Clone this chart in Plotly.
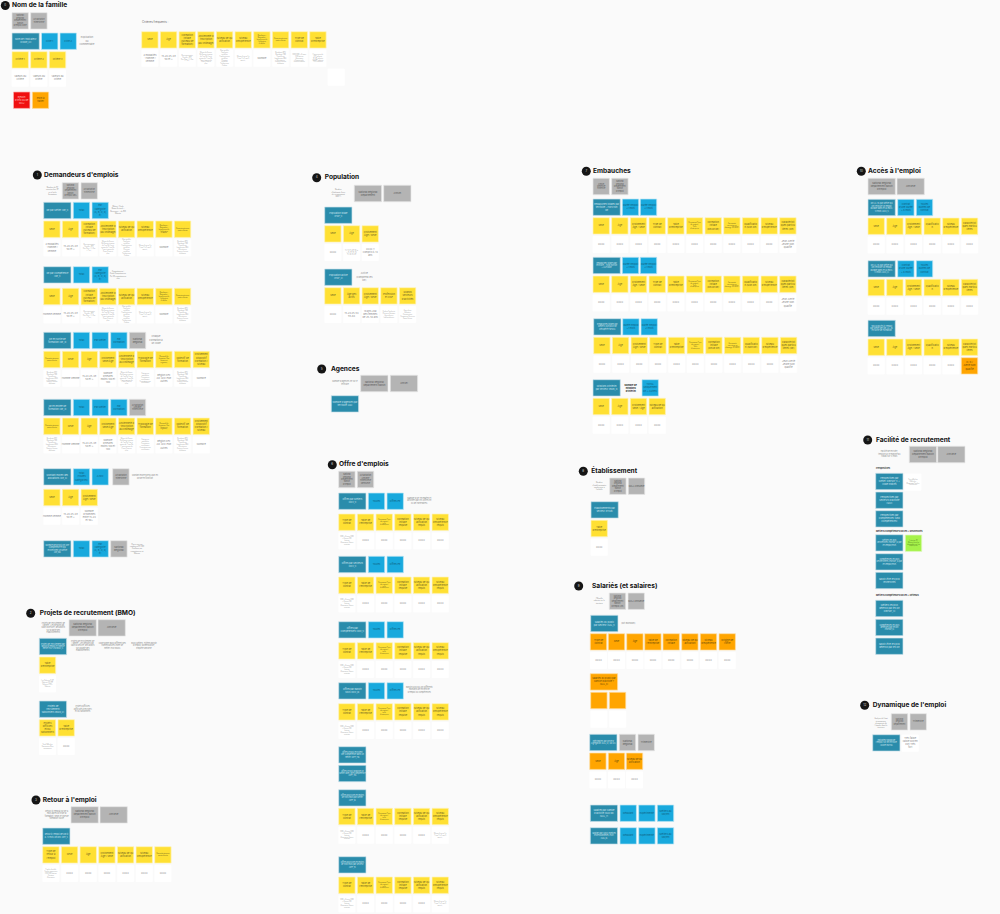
import textwrap
import plotly.graph_objects as go

# texts of the recurring post-its
crit_long = ["Sexe", "Âge", "Formation initiale (Niveau de formation)", "Ancienneté d'inscription (au chômage)",
             "Niveau de qualification", "Niveau d'expérience",
             "Résidence / Nationalité / bénéficiaire de l'obligation d'emploi",
             "Caractéristiques particulières"]
crit_famille = crit_long + ["Type de contrat", "Taille d'entreprise"]
val_famille = ["2 modalités : Homme / Femme", "15-24 25-49 50 et +",
               "Non renseignée Certifié / DEF Bac Bac + 1 / Bac + 2 et +",
               "Moins de 6 mois De 6 mois à moins de 1 an De 1 an à moins de 2 ans De 2 ans à moins de 3 ans 3 ans et plus",
               "Non qualifié Employés qualifiés Employés non qualifiés Ouvriers qualifiés Techniciens Cadres",
               "Moins d'un an 1 à 2 ans 2 à 5 ans 5 ans et +", "Nombre",
               "Résidents QPV Résidents ZRR Travailleurs handicapés RSA Allocataires Seniors Jeunes diplômés",
               "CDD CDD > 6 mois CDI Intérim Alternance Contrat aidé Autres contrats",
               "Entreprises de 0-9 salariés 10-49 salariés 50-199 salariés 200+ salariés"]
val_de = ["2 modalités : Homme / Femme", "15-24 25-49 50 et +",
          "Non renseignée Certifié / DEF Bac Bac + 1 / Bac + 2 et +", val_famille[3], val_famille[4],
          "Moins d'un an 1 à 2 ans 2 à 5 ans 5 ans et +", "Nombre", val_famille[7]]
val_de2 = ["Homme Femme"] + val_de[1:]
crit_form = ["Caractéristiques particulières", "Sexe", "Âge", "Croisement Sexe/Âge",
             "Ancienneté d'inscription au chômage", "Typologie de formation",
             "Dispositif de formation (Son finance et organise)", "Objectif de formation",
             "Croisement Dispositif Formation / Niveau"]
val_form = [val_famille[7], "Homme Femme", "15-24 25-49 50 et +", "Nombre d'heures moins 100 et 100",
            val_famille[3], "Catégories nationales Formations certifiantes Formations non certifiantes",
            "Région CPF AIF AFC POE Autres", val_famille[7], "Nombre"]
crit_3 = ["Sexe", "Âge", "Croisement Âge / Sexe"]
val_3 = ["Homme Femme", "15-24 25-49 50 et +", "Nombre d'hommes entre 15-24 et 50+"]
crit_off = ["Type de contrat", "Taille de l'entreprise", "Croisement Type de contrat / taille d'entreprise",
            "Formation initiale requise", "Niveau de qualification requis", "Niveau d'expérience requis"]
val_off = ["CDD > 6 mois CDD < 6 mois CDI Intérim Alternance Autres contrats", "XXXX", "XXXX", "XXXX", "XXXX", "XXXX"]
val_off2 = val_off[:5] + ["Moins d'un an 1 à 2 ans 2 à 5 ans 5 ans et +"]
crit_emb = ["Sexe", "Âge", "Croisement Âge / Sexe", "Type de contrat", "Taille d'entreprise",
            "Croisement Type de contrat / Taille d'entreprise", "Formation initiale (DEAR DE)",
            "Ancienneté inscription au chômage (DEAR DE)", "Qualification (Non DE)", "Niveau d'expérience",
            "Caractéristiques particulières (DE)"]
val_emb = ["XXXX"] * 10 + ["Jeun Alerté Jeune Non qualifié"]
crit_acc = ["Sexe", "Âge", "Croisement Âge / Sexe", "Qualification", "Niveau d'expérience",
            "Caractéristiques Particulières"]
crit_sal = ["Type de contrat", "Sexe", "Âge", "Taille de l'entreprise", "Formation initiale",
            "Niveau de qualification", "Niveau d'expérience", "Origine de l'offre"]
duree = "Durée Emploi >1 mois"

# board: kind, x, y, labels (several x = one post-it each when x is a list)
P = 18.67
board = [
    # 0 Nom de la famille
    ("gray", [12, 30.7], 12.7, ["National Régional Département Bassin d'emploi Zone", "Actualisation Trimestrielle"]),
    ("teal", 12, 33, ["Nom de l'indicateur (CODE_XI)"]),
    ("blue", [41.5, 60], 33, ["Filtre 1", "Filtre 2"]),
    ("text", 87, 41, ["Explication ou commentaire"]),
    ("yellow", 12, 51.7, ["Critère 1", "Critère 2", "Critère 3"]),
    ("white", 12, 70, ["Valeurs du critère"] * 3),
    ("red", 13.5, 92, ["Besoin d'info ou de MAJ"]),
    ("orange", 32.3, 92, ["Point à traiter"]),
    ("left", 142, 22.7, ["Critères fréquents :"]),
    ("yellow", 141.7, 31.7, crit_famille),
    ("white", 141.7, 50, val_famille),
    ("white", 328, 69, [""]),
    # 1 Demandeurs d'emplois
    ("text_n", 52.5, 191, ["Nombre de DE inscrits chez DE ou à la de formations"]),
    ("gray", [62.3, 81], 182.7, ["National Régional Département Bassin d'emploi MEL", "Actualisation Trimestrielle"]),
    ("teal", 43.7, 202.3, ["DE par Métier (DE_1)"]),
    ("blue", [73.3, 92], 202.3, ["Total", "Par catégorie (A, B, C, D, E)"]),
    ("text_n", 118, 210, ["Métier / Code Rome Au total = Nouveaux + de 100 Métiers"]),
    ("yellow", 43.7, 221, crit_long),
    ("white", 43.7, 239.7, val_de),
    ("teal", 43.7, 266.7, ["DE par Compétence (DE_1)"]),
    ("blue", [73.3, 92], 266.7, ["Total", "Par catégorie (A, B, C, D, E)"]),
    ("text_n", 118, 275, ["Compétences / Code Compétences De 50 compétences clés"]),
    ("yellow", 43.7, 288.3, crit_long),
    ("white", 43.7, 306.7, val_de2),
    ("teal", 43.7, 332.3, ["DE en sortie de formation (DE_3)"]),
    ("blue", [73.3, 92, 110.7], 332.3, ["Total", "Par Métier", "Par Formation"]),
    ("gray", 129.3, 332.3, ["National Régional"]),
    ("text", 156, 340, ["Chaque Formation à un code"]),
    ("yellow", 43.7, 351.3, crit_form),
    ("white", 43.7, 370, val_form),
    ("teal", 43.7, 399.3, ["DE en entrée de formation (DE_3)"]),
    ("blue", [73.3, 92, 110.7], 399.3, ["Total", "Par Métier", "Par Formation"]),
    ("gray", 129.3, 399.3, ["Actualisation Annuelle Trimestrielle"]),
    ("yellow", 43.7, 418, crit_form),
    ("white", 43.7, 436.7, val_form),
    ("teal", 43.7, 468.7, ["Montant moyen des allocations (DE_4)"]),
    ("blue", [73.3, 92], 468.7, ["Total (Toutes catégories)", "A/B/C"]),
    ("gray", 112.7, 468.7, ["Actualisation Trimestrielle"]),
    ("text", 145, 477, ["Montant moyen perçu par les DE de en fonction"]),
    ("yellow", 43.7, 489.3, crit_3),
    ("white", 43.7, 508, val_3),
    ("teal", 43.7, 540.7, ["Nombre de DE qui ont une Compétence et qui recherchent un Métier (DE_5b)"]),
    ("blue", [73.3, 92], 540.7, ["Total", "Par catégorie (A, B, C, D, E)"]),
    ("gray", 110.7, 540.7, ["National Régional"]),
    ("text_n", 137, 549, ["Parce que par catalogue DE/180 Croisées par compétences et Métiers"]),
    # 2 Projets de recrutement
    ("text", 53.3, 628, ["Projets de recrutement de l'année : Les Besoins de Main d'Oeuvre, déclaratifs sur la base des établissements"]),
    ("gray_w", [69, 98], 619.7, ["National Régional Département Bassin d'Emploi", "Annuelle"]),
    ("teal", 39.3, 638.3, ["Projets de recrutement par Bassin d'emploi et Famille métier FAP (HR1BM2_1)"]),
    ("text", 82.7, 646, ["Projets de recrutement de l'année : Les Besoins de Main d'Oeuvre, déclaratifs sur la base des établissements"]),
    ("text", 112.3, 646, ["Code Rome BMO différent des nomenclatures Insee de métier (FAP/BMO)"]),
    ("text", 144, 646, ["BMO Métiers, Filières Bassin d'Emploi, Nomenclature, Enquête annuelle"]),
    ("yellow", 39.3, 657, ["Taille d'entreprise"]),
    ("white", 39.3, 675.7, ["Les Salariés 0-49 Salariés 50-199 Salariés 200+ Salariés"]),
    ("teal", 39.3, 701, ["Projets de recrutement saisonniers (BMO_2)"]),
    ("text", 82.7, 709.3, ["Projets difficiles (difficulté à recruter) et/ou saisonniers"]),
    ("yellow", 39.3, 719.7, ["Projets difficiles et/ou saisonniers", "Taille d'entreprise"]),
    ("white", 39.3, 738.3, ["Total Difficiles Saisonniers Non saisonniers", "XXXX"]),
    # 3 Retour à l'emploi
    ("text", 56.7, 815, ["Retour à l'emploi sur de 6 mois après la fin de la formation, selon le type de formation suivie"]),
    ("gray_w", [71, 100], 806.7, ["National Régional Département Bassin d'Emploi", "Annuelle"]),
    ("teal", 42.7, 828, ["Retour à l'emploi des DE à 6-12 mois (RE/DE) (RET_1)"]),
    ("yellow", 42.7, 846.7, ["Type de retour à l'emploi", "Sexe", "Âge", "Croisement Âge / Sexe",
                             "Niveau de qualification", "Niveau d'expérience", "Caractéristiques particulières"]),
    ("white", 42.7, 865.3, ["Emploi durable Emploi temporaire CDI CDD Intérim Création Alternance"] + ["XXXX"] * 6),
    # 4 Population
    ("text_n", 338.3, 193.3, ["Nombre d'habitants (hors du recensement INSEE)"]),
    ("gray_w", [354.3, 383.7], 185.3, ["National Régional Département", "Annuel"]),
    ("teal", 324.7, 207, ["Population totale (POP_1)"]),
    ("yellow", 324.7, 225.7, crit_3),
    ("white", 324.7, 244.3, ["XXXX", "15-24 25-49 50 et + 15-19 20-24 25-34 35-49", "XXXX y compris 0-14 ans"]),
    ("teal", 324.7, 269, ["Population active (POP_2)"]),
    ("text", 364.3, 277, ["Active (comprend les DE)"]),
    ("yellow", 324.7, 287.7, ["Sexe", "Âge des actifs", "Croisement Âge / Sexe", "Profession et CSP", "Grands Secteurs d'activités"]),
    ("white", 324.7, 306.3, ["XXXX", "15-24 25-54 55-64", "18 ans-24a des femmes de 25-54 ans",
                             "Cadres Employés Ouvriers Artisans Agriculteurs Intermédiaires",
                             "Agriculture Industrie Construction Commerce Services Santé Autres"]),
    # 5 Agences
    ("text", 345, 383, ["Nombre d'agences PE sur le territoire"]),
    ("gray_w", [360.7, 390.3], 375.3, ["National Régional Département Bassin", "Annuel"]),
    ("teal", 331.3, 395.7, ["Nombre d'agences par territoire (AG)"]),
    # 6 Offre d'emplois
    ("gray", [338.7, 357.3], 471.3, ["National Régional Département Bassin d'Emploi", "Actualisation Annuelle Trimestrielle Mensuelle"]),
    ("teal", 338.7, 493, ["Offres par Métiers (OFF_1)"]),
    ("blue", [368.3, 387], 493, ["Toutes", "Offres PE"]),
    ("text", 419.3, 501, ["Nombre d'OF recensées et diffusées par PE (Offres PE ou de Partenaires)"]),
    ("yellow", 338.7, 514, crit_off),
    ("white", 338.7, 532.7, val_off),
    ("teal", 338.7, 556.3, ["Offres par Secteurs (OFF_1)"]),
    ("blue", [368.3, 387], 556.3, ["Toutes", "Offres PE"]),
    ("yellow", 338.7, 577, crit_off),
    ("white", 338.7, 595.7, val_off),
    ("teal", 338.7, 621.7, ["Offres par Compétences (OFF_1)"]),
    ("blue", [368.3, 387], 621.7, ["Toutes", "Offres PE"]),
    ("yellow", 338.7, 642.7, crit_off),
    ("white", 338.7, 661.3, val_off),
    ("teal", 338.7, 682.7, ["Offres par Bassin sous (OFF_6)"]),
    ("blue", [368.3, 387], 682.7, ["Toutes", "Offres PE"]),
    ("text", 419.3, 690, ["Bassin Sous NS-DE Différents montants de recherche d'emploi ou compétences"]),
    ("yellow", 338.7, 703.7, crit_off),
    ("white", 338.7, 722.3, val_off),
    ("teal", 338.7, 746.7, ["Offres PE qui recrutent une Compétence dans un métier (OFF_7b)"]),
    ("teal", 338.7, 765.3, ["Offres PE qui propose un Métier avec une Compétence (OFF_7b)"]),
    ("teal", 338.7, 789.7, ["Offres pourvues en moins de trois mois par Métier (OFF_8)"]),
    ("yellow", 338.7, 808.3, crit_off),
    ("white", 338.7, 827, val_off2),
    ("teal", 338.7, 856.7, ["Offres pourvues en moins de trois mois par Secteur (OFF_9)"]),
    ("yellow", 338.7, 877, crit_off),
    ("white", 338.7, 895.7, val_off2),
    # 7 Embauches
    ("gray", [593, 611.7], 178.3, ["Annuel Semestre Trimestre", "National Régional Département Bassin d'Emploi"]),
    ("teal", 593, 199, ["Embauches totales par territoire – Hors non DE"]),
    ("blue", [622.3, 640.3], 199, [duree, duree]),
    ("yellow", 593, 217.7, crit_emb),
    ("white", 593, 236.3, val_emb),
    ("teal", 593, 257.3, ["Embauches totales par territoire – Total non DE + ALF/DIRE"]),
    ("blue", [622.3, 640.3], 257.3, [duree, duree]),
    ("yellow", 593, 276, crit_emb),
    ("white", 593, 294.7, val_emb),
    ("teal", 593.7, 318.7, ["Embauches totales par Métiers (juin pour DE Récupéré FRPM4)"]),
    ("blue", [622.7, 641], 318.7, [duree, duree]),
    ("yellow", 593.7, 337.3, crit_emb),
    ("white", 593.7, 356, val_emb),
    ("teal", 593, 379.7, ["Missions d'intérim par secteur (EMB_3)"]),
    ("bold", 630.7, 388, ["Nombre de missions d'intérim"]),
    ("blue", 642, 379.7, ["TOTAL (uniquement DE + Autres)"]),
    ("yellow", 593, 398.3, ["Sexe", "Âge", "Croisement Sexe / Âge", "Niveau de qualification"]),
    ("white", 593, 417, ["XXXX"] * 4),
    # 8 Établissement
    ("text_n", 599.3, 486.3, ["Nombre d'établissements employeurs à l'échelle"]),
    ("gray", [609.7, 628.3], 478, ["National Régional Département Bassin d'Emploi", "MAJ Annuelle"]),
    ("teal", 591, 501.7, ["Établissements par Secteur (ETAB)"]),
    ("yellow", 591, 520.3, ["Taille d'entreprise"]),
    ("white", 591, 539, ["XXXX"]),
    # 9 Salariés
    ("text_n", 599.3, 601, ["Effectifs salariés sur le territoire"]),
    ("gray", [609.3, 628], 593, ["National Régional Département Bassin d'Emploi (ZE)", "MAJ Annuelle"]),
    ("teal", 590.7, 615.3, ["Salariés du public par Secteur (SAL_1)"]),
    ("text", 628.3, 623.7, ["(Mt Bonbon)"]),
    ("orange", [590.3, 608.3, 626.7, 644.7, 663, 681.7, 700.3, 719], 633.7, crit_sal),
    ("white", [590.3, 608.3, 626.7, 644.7, 663, 681.7, 700.3, 719], 652.3, ["XXXX"] * 8),
    ("orange_w", 590.3, 673.7, ["Salariés du public par Famille d'activité ? (SAL_3)"]),
    ("orange", 590.7, 692.3, ["", ""]),
    ("white", 590.7, 711, ["", ""]),
    ("teal", 589.7, 734.3, ["Intérimaires par Secteur Agrégation (SAL_S1, S8 S2)"]),
    ("gray", [619.3, 638], 734.3, ["National Régional", "Trimestre"]),
    ("orange", [589.7, 608.3, 626.3], 753, ["Sexe", "Âge", "Niveau de qualification"]),
    ("white", [589.7, 608.3, 626.3], 771.7, ["XXXX"] * 3),
    ("teal", 590.3, 805, ["Salaires par Famille d'activité (NAF38) (SAL_7)"]),
    ("blue", [620, 638.7, 657.3], 805, ["Débutant", "Expérimenté", "Métiers au Moyen"]),
    ("teal", 590.3, 827.7, ["Salaires par Sous-Familles Professionnelles (FAP) (SAL_8)"]),
    ("blue", [620, 638.7, 657.3], 827.7, ["Débutant", "Expérimenté", "Métiers au Moyen"]),
    # 10 Accès à l'emploi
    ("gray_w", [868, 897], 178.3, ["National Régional Département Bassin d'Emploi", "Annuelle"]),
    ("teal", 868, 199.3, ["DE (A / B) par Métier qui ont retrouvé un emploi durable dans les 6 mois / 12 mois (ACC_1)"]),
    ("blue", [897.7, 916.3], 199.3, ["Contrat d'une durée > 6 mois", "Toutes durées de contrat"]),
    ("yellow", 868, 218, crit_acc),
    ("white", 868, 236.7, ["XXXX"] * 6),
    ("teal", 868, 260.7, ["DE (A / B) par Métier qui ont retrouvé un emploi durable dans les 6 mois / 12 mois (ACC_2)"]),
    ("blue", [897.7, 916.3], 260.7, ["Contrat d'une durée > 6 mois", "Toutes durées de contrat"]),
    ("yellow", 868, 279.3, crit_acc),
    ("white", 868, 298, ["XXXX"] * 6),
    ("teal", 868, 320.3, ["Taux d'accès à l'emploi par Métier des DE (A + B) en sortie de Formation"]),
    ("yellow", 868, 339, crit_acc),
    ("white", 868, 357.7, ["XXXX"] * 5),
    ("orange", 961.3, 357.7, ["0 / 8 / Alerté Non qualifié"]),
    # 11 Facilité de recrutement
    ("text", 889.3, 454.3, ["Facilité de recruter, tension sur le marché du travail sur 12 mois"]),
    ("gray_w", [909.3, 937.7], 446.3, ["National Régional Département Bassin d'Emploi", "Annuelle"]),
    ("left_b", 876, 468.7, ["Perspectives"]),
    ("teal", 875.7, 473.3, ["Perspectives par Métier (FRPMP_1) + Code Indices"]),
    ("white", 904.7, 474, ["Très difficiles Difficiles Moyennes Faciles Très faciles"]),
    ("teal", 875.7, 492, ["Perspectives par Secteurs d'activité (SAF)"]),
    ("teal", 875.7, 510.7, ["Perspectives par Compétences (SBD Compétences)"]),
    ("left_b", 876, 531, ["Métiers/Compétences/SB les + Recherchés"]),
    ("teal", 875.7, 534.7, ["Métiers les plus Recherchés (FRPMP_3) par les employeurs"]),
    ("green", 905.3, 535, ["Liste top 10 Métiers les plus demandés par les employeurs"]),
    ("teal", 875.7, 553.7, ["Compétences les plus Recherchées (FRPMP_3) par les employeurs"]),
    ("teal", 875.7, 572.3, ["Savoir-être les plus recherchés"]),
    ("left_b", 876, 595.3, ["Métiers/Compétences/SB les + Détenus"]),
    ("teal", 875.7, 600.3, ["Métiers les plus détenus par les DE (FRPMP_3)"]),
    ("teal", 875.7, 619.3, ["Compétences les plus détenues par les DE (FRPMP_3)"]),
    ("teal", 875.7, 638, ["Savoir-être les plus détenus par les DE"]),
    # 12 Dynamique de l'emploi
    ("text_n", 881, 723.3, ["Analyse de l'état économique, dynamique de l'emploi dans le territoire"]),
    ("gray", [891.3, 910], 713.7, ["National Régional Département", "Trimestre"]),
    ("teal", 872.7, 734.7, ["Indicateur global de l'emploi sur un territoire (Score EMTN)"]),
    ("white", 902, 735, ["Très faible Faible Moyen Fort Très fort"]),
]

# section titles: number, title, circle centre, text x
sections = [
    ("0", "Nom de la famille", 5.3, 5.5, 12),
    ("1", "Demandeurs d'emplois", 37.3, 175, 44),
    ("2", "Projets de recrutement (BMO)", 30.7, 613.3, 39.7),
    ("3", "Retour à l'emploi", 36, 800, 42.7),
    ("4", "Population", 316.7, 177.7, 324.7),
    ("5", "Agences", 321.7, 369, 331),
    ("6", "Offre d'emplois", 332.3, 464.7, 339),
    ("7", "Embauches", 586.3, 171.3, 593),
    ("8", "Établissement", 583.3, 471.3, 591.3),
    ("9", "Salariés (et salaires)", 578.7, 586, 592),
    ("10", "Accès à l'emploi", 861.3, 171.3, 868),
    ("11", "Facilité de recrutement", 867.7, 440, 876),
    ("12", "Dynamique de l'emploi", 864.7, 705.3, 872.7),
]

FONT = "Inter"
NOTE = 16.4
WIDE = 27.3
# fill, border, text colour
styles = {
    "teal": ("#2A8CAB", "#CDE3EB", "#CFE5EE"),
    "blue": ("#18A9DD", "#BFE6F5", "#0F5F80"),
    "gray": ("#B4B4B4", "#E6E6E6", "#5A5A5A"),
    "gray_w": ("#B4B4B4", "#E6E6E6", "#5A5A5A"),
    "yellow": ("#FFE033", "#FFF4B8", "#6E6222"),
    "white": ("#FFFFFF", "#FFFFFF", "#8A8A8A"),
    "orange": ("#FFA500", "#FFE0A6", "#6B4A08"),
    "orange_w": ("#FFA500", "#FFE0A6", "#6B4A08"),
    "red": ("#F01010", "#FBB0B0", "#FFC0C0"),
    "green": ("#A6F24A", "#DDF9BC", "#55801F"),
}


def wrap(label, kind):
    # text size and line length depend on the post-it and on how long the text is
    n = len(label)
    if kind == "teal":
        size, width = (2.3, 21) if n <= 48 else (1.9, 26)
    elif kind in ("gray_w", "orange_w"):
        size, width = 2.3, 22
    elif kind == "text":
        size, width = (2.4, 13) if n <= 30 else (1.9, 28)
    elif kind == "text_n":
        size, width = 1.7, 17
    elif kind == "gray" and n > 20:
        size, width = 1.9, 13
    elif label == "Caractéristiques particulières":
        size, width = 1.7, 17
    elif n <= 42:
        size, width = 2.4, 12
    else:
        size, width = 1.5, 17
    return "<br>".join(textwrap.wrap(label, width)), size


fig = go.Figure()
boxes = {k: ([], []) for k in styles}
texts = {}


def add_text(x, y, label, size, color, weight=400, pos="middle center"):
    t = texts.setdefault((size, color, weight, pos), ([], [], []))
    t[0].append(x)
    t[1].append(y)
    t[2].append(label)


for kind, x, y, labels in board:
    xs = x if isinstance(x, list) else [x + i * P for i in range(len(labels))]
    for xi, label in zip(xs, labels):
        if kind in ("text", "text_n"):
            s, size = wrap(label, kind)
            add_text(xi, y, s, size, "#8A8A8A")
        elif kind == "bold":
            add_text(xi, y, "<br>".join(textwrap.wrap(label, 10)), 2.3, "#222222", 700)
        elif kind == "left":
            add_text(xi, y, label, 2.9, "#666666", 400, "middle right")
        elif kind == "left_b":
            add_text(xi, y, label, 2.2, "#333333", 700, "middle right")
        else:
            wide = kind in ("teal", "gray_w", "orange_w")
            w = WIDE if wide else NOTE
            bx, by = boxes[kind]
            bx += [xi, xi + w, xi + w, xi, xi, None]
            by += [y, y, y + NOTE, y + NOTE, y, None]
            if label:
                s, size = wrap(label, kind)
                color = "#A8A8A8" if kind == "white" and size < 2 else styles[kind][2]
                add_text(xi + w / 2, y + NOTE / 2, s, size, color)

for kind, (bx, by) in boxes.items():
    fig.add_trace(go.Scatter(x=bx, y=by, mode="lines", fill="toself", fillcolor=styles[kind][0],
                             line=dict(color=styles[kind][1], width=0.7), hoverinfo="skip", showlegend=False))

fig.add_trace(go.Scatter(x=[s[2] for s in sections], y=[s[3] for s in sections], mode="markers+text",
                         marker=dict(size=9, color="#151515"), text=[s[0] for s in sections],
                         textposition="middle center", textfont=dict(family=FONT, size=3, color="#DDDDDD"),
                         hoverinfo="skip", showlegend=False))
fig.add_trace(go.Scatter(x=[s[4] for s in sections], y=[s[3] for s in sections], mode="text",
                         text=[s[1] for s in sections], textposition="middle right",
                         textfont=dict(family=FONT, size=6.6, color="#111111", weight=700),
                         hoverinfo="skip", showlegend=False))

for (size, color, weight, pos), (tx, ty, tt) in texts.items():
    fig.add_trace(go.Scatter(x=tx, y=ty, mode="text", text=tt, textposition=pos,
                             textfont=dict(family=FONT, size=size, color=color, weight=weight),
                             hoverinfo="skip", showlegend=False))

fig.update_xaxes(range=[0, 1000], visible=False, fixedrange=True)
fig.update_yaxes(range=[914, 0], visible=False, fixedrange=True)
fig.update_layout(width=1000, height=914, margin=dict(l=0, r=0, t=0, b=0),
                  paper_bgcolor="#FAFAFA", plot_bgcolor="#FAFAFA")
fig.write_html("out.html", post_script="document.body.style.margin='0';", config={"displayModeBar": False})
